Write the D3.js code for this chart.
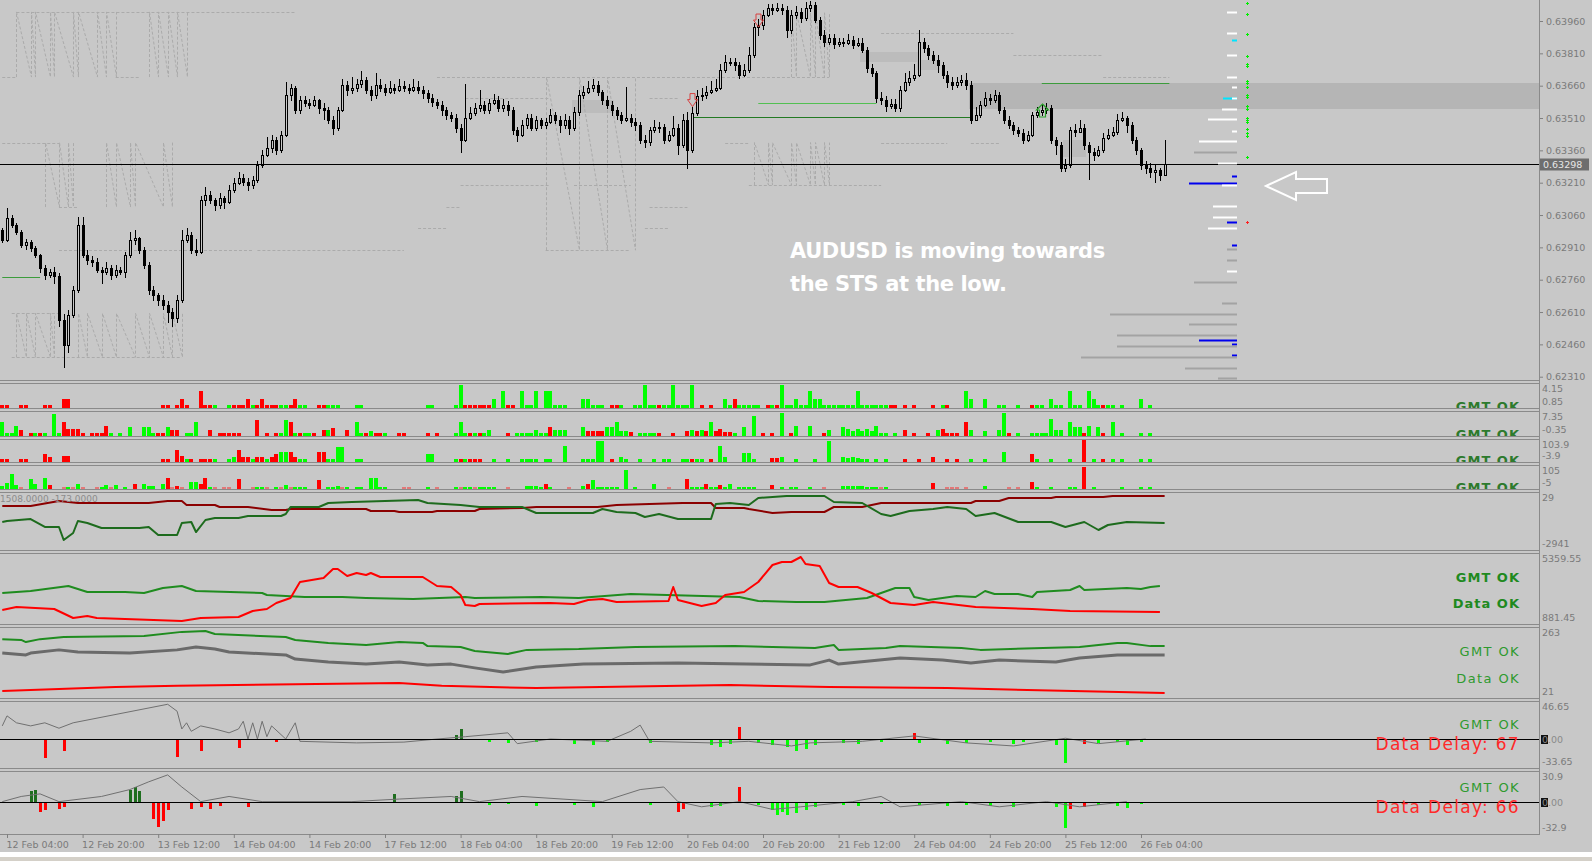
<!DOCTYPE html>
<html><head><meta charset="utf-8">
<script src="https://cdn.jsdelivr.net/npm/d3@7"></script>
<style>
html,body{margin:0;padding:0;background:#c8c8c8;overflow:hidden}
svg{display:block}
text{font-family:"DejaVu Sans",Verdana,sans-serif}
</style></head><body>
<svg id="c" width="1592" height="861"></svg>
<script>
// ---------------- DATA ----------------
// Hourly AUDUSD candles, prices in points (price x 1e5). Bar 1 = 12 Feb 04:00
const opens = [62990,62943,63045,63013,62981,62920,62934,62906,62874,62814,
62781,62795,62776,62572,62456,62595,62711,63013,62874,62851,
62841,62804,62795,62814,62781,62804,62795,62874,62943,62953,
62897,62827,62711,62688,62665,62642,62609,62581,62665,62943,
62967,62897,62888,63129,63152,63129,63106,63138,63120,63176,
63208,63231,63213,63199,63222,63292,63338,63371,63408,63361,
63431,63617,63649,63547,63594,63580,63570,63594,63556,63547,
63501,63464,63547,63663,63640,63649,63668,63686,63640,63617,
63663,63649,63631,63649,63640,63659,63649,63640,63654,63640,
63626,63603,63584,63570,63547,63524,63510,63464,63408,63510,
63533,63556,63570,63547,63580,63594,63556,63570,63547,63454,
63431,63477,63510,63464,63501,63477,63492,63524,63501,63477,
63501,63464,63538,63617,63631,63649,63663,63631,63594,63570,
63547,63524,63501,63510,63492,63477,63408,63398,63454,63468,
63468,63408,63431,63464,63385,63501,63361,63533,63612,63617,
63631,63640,63649,63733,63770,63770,63756,63710,63733,63802,
63932,63942,63988,64021,64011,64021,64011,63918,63988,64002,
63974,64021,64035,63965,63895,63863,63881,63854,63863,63858,
63872,63849,63858,63826,63742,63719,63603,63594,63566,63575,
63556,63640,63677,63696,63710,63863,63835,63802,63779,63756,
63710,63677,63663,63677,63686,63663,63501,63524,63570,63603,
63594,63617,63547,63501,63477,63454,63440,63408,63431,63524,
63538,63547,63556,63408,63385,63278,63292,63454,63445,63464,
63385,63352,63338,63361,63417,63431,63445,63501,63510,63477,
63408,63361,63292,63278,63259,63268,63245];
const highs = [63000,63092,63060,63025,62990,62950,62945,62915,62880,62830,
62810,62820,62790,62600,62620,62730,63050,63050,62900,62870,
62860,62820,62840,62830,62830,62820,62890,62980,62990,62960,
62910,62840,62730,62700,62690,62660,62630,62690,62990,63000,
62980,62950,63150,63190,63170,63140,63160,63150,63200,63230,
63260,63250,63230,63240,63310,63360,63420,63430,63420,63450,
63677,63670,63660,63610,63610,63600,63610,63600,63580,63560,
63520,63560,63690,63680,63700,63690,63730,63700,63660,63720,
63690,63670,63680,63670,63690,63680,63670,63690,63680,63660,
63640,63620,63600,63590,63560,63540,63530,63480,63670,63560,
63580,63640,63590,63600,63620,63610,63600,63590,63560,63470,
63500,63530,63530,63520,63510,63510,63550,63540,63520,63530,
63520,63560,63640,63660,63680,63690,63680,63640,63610,63590,
63560,63540,63654,63530,63510,63490,63430,63470,63500,63490,
63480,63450,63520,63480,63530,63540,63560,63640,63650,63660,
63680,63690,63760,63800,63790,63790,63770,63760,63840,63950,
63970,64010,64040,64040,64045,64040,64030,64010,64030,64020,
64050,64058,64050,63980,63920,63900,63900,63880,63880,63900,
63890,63880,63880,63840,63760,63730,63630,63610,63600,63600,
63660,63720,63730,63760,63919,63880,63850,63820,63800,63770,
63730,63700,63700,63710,63720,63680,63560,63590,63630,63620,
63640,63630,63560,63520,63490,63470,63460,63450,63540,63560,
63570,63580,63570,63420,63400,63320,63470,63480,63500,63480,
63400,63370,63380,63440,63460,63470,63530,63540,63520,63490,
63420,63370,63310,63300,63290,63280,63408];
const lows = [62930,62935,63000,62965,62905,62900,62890,62860,62790,62760,
62770,62740,62540,62349,62420,62580,62700,62860,62830,62820,
62790,62740,62780,62760,62770,62780,62770,62860,62920,62880,
62810,62690,62660,62640,62620,62560,62539,62560,62650,62930,
62880,62870,62880,63100,63110,63080,63090,63090,63110,63160,
63200,63195,63170,63180,63210,63280,63330,63350,63340,63350,
63420,63590,63530,63530,63560,63550,63560,63530,63500,63480,
63430,63450,63540,63610,63620,63630,63650,63620,63590,63600,
63630,63610,63620,63620,63630,63630,63620,63630,63620,63600,
63580,63560,63550,63520,63500,63490,63440,63347,63400,63500,
63520,63540,63530,63530,63570,63540,63540,63520,63430,63400,
63420,63460,63450,63450,63460,63460,63480,63480,63440,63460,
63430,63450,63520,63600,63620,63630,63610,63570,63550,63520,
63500,63480,63490,63470,63450,63390,63370,63380,63440,63440,
63390,63400,63420,63340,63370,63275,63350,63520,63590,63600,
63620,63630,63640,63720,63750,63730,63690,63700,63720,63790,
63890,63920,63980,63990,64000,63990,63880,63900,63970,63950,
63960,64000,63950,63870,63840,63850,63830,63840,63840,63850,
63830,63840,63810,63720,63700,63580,63570,63540,63550,63540,
63540,63630,63660,63680,63700,63810,63780,63760,63720,63690,
63650,63640,63650,63660,63640,63480,63500,63510,63560,63570,
63580,63530,63480,63460,63430,63420,63390,63400,63420,63510,
63520,63530,63390,63340,63259,63260,63280,63420,63440,63360,
63222,63310,63330,63350,63410,63420,63430,63490,63440,63390,
63340,63270,63250,63230,63208,63220,63240];
const closes = [62943,63045,63013,62981,62920,62934,62906,62874,62814,62781,
62795,62776,62572,62456,62595,62711,63013,62874,62851,62841,
62804,62795,62814,62781,62804,62795,62874,62943,62953,62897,
62827,62711,62688,62665,62642,62609,62581,62665,62943,62967,
62897,62888,63129,63152,63129,63106,63138,63120,63176,63208,
63231,63213,63199,63222,63292,63338,63371,63408,63361,63431,
63617,63649,63547,63594,63580,63570,63594,63556,63547,63501,
63464,63547,63663,63640,63649,63668,63686,63640,63617,63663,
63649,63631,63649,63640,63659,63649,63640,63654,63640,63626,
63603,63584,63570,63547,63524,63510,63464,63408,63510,63533,
63556,63570,63547,63580,63594,63556,63570,63547,63454,63431,
63477,63510,63464,63501,63477,63492,63524,63501,63477,63501,
63464,63538,63617,63631,63649,63663,63631,63594,63570,63547,
63524,63501,63510,63492,63477,63408,63398,63454,63468,63468,
63408,63431,63464,63385,63501,63361,63533,63612,63617,63631,
63640,63649,63733,63770,63770,63756,63710,63733,63802,63932,
63942,63988,64021,64011,64021,64011,63918,63988,64002,63974,
64021,64035,63965,63895,63863,63881,63854,63863,63858,63872,
63849,63858,63826,63742,63719,63603,63594,63566,63575,63556,
63640,63677,63696,63710,63863,63835,63802,63779,63756,63710,
63677,63663,63677,63686,63663,63501,63524,63570,63603,63594,
63617,63547,63501,63477,63454,63440,63408,63431,63524,63538,
63547,63556,63408,63385,63278,63292,63454,63445,63464,63385,
63352,63338,63361,63417,63431,63445,63501,63510,63477,63408,
63361,63292,63278,63259,63268,63245,63298];
const lastPrice = 63298;

const priceTicks = [63960,63810,63660,63510,63360,63210,63060,62910,62760,62610,62460,62310];
const timeTickBars = [1,17,33,49,65,81,97,113,129,145,161,177,193,209,225,241];
const timeLabels = ["12 Feb 04:00","12 Feb 20:00","13 Feb 12:00","14 Feb 04:00","14 Feb 20:00","17 Feb 12:00","18 Feb 04:00","18 Feb 20:00","19 Feb 12:00","20 Feb 04:00","20 Feb 20:00","21 Feb 12:00","24 Feb 04:00","24 Feb 20:00","25 Feb 12:00","26 Feb 04:00"];

// shaded zones [barFrom, barTo, priceTop, priceBottom]
const zones = [[205,330,63673,63552],[182,194,63817,63770],[194,198,63779,63733],[121,129,63594,63533],[225,229,63408,63329]];
// dashed level segments [barFrom, barTo, price]
const dashSegs = [[3,62,64002],[60,67,64058],[0,3,63700],[24,29,63700],[92,175,63700],[186,214,63905],[214,233,63803],[233,247,63700],
[98,116,63603],[137,143,63603],[0,12,63396],[153,158,63396],[186,200,63396],[205,211,63396],[97,116,63199],[158,186,63199],[121,133,63199],
[12,16,63097],[94,97,63097],[137,145,63097],[12,53,62897],[54,85,62897],[115,133,62897],[88,94,63000],[136,141,63000],[2,12,62604],[2,38,62400]];
// dashed zig-zag swings [priceTop, priceBottom, bars]
const zigzags = [
 [64002,63700,[3,6,7,10,11,15,16,20,22,24]],
 [64002,63700,[31,33,35,37,39]],
 [63396,63097,[9,12,14,15]],
 [63396,63097,[22,24,27,28,34,36]],
 [62604,62400,[3,5,7,10,11]],
 [62604,62400,[16,18,21,24,28,31,34,36,38]],
 [63396,63199,[159,162,163,167,168,171,172,174,175]],
 [63998,63700,[167,168,171,172,174,175]],
 [63700,62897,[115,122,128,134]]];
// green level lines [barFrom, barTo, price, shade]
const greenLevels = [[0,8,62772,0],[160,185,63580,1],[146,205,63515,2],[220,247,63673,0]];
const downArrows = [[146,63563],[160,63932]];
const upArrows = [[220,63575]];
// right-side level profile [price, volume, kind]
const profile = [[64002,10,'w'],[63905,10,'w'],[63803,10,'w'],[63700,10,'w'],[63654,5,'w'],[63603,5,'w'],[63552,15,'w'],[63505,29,'w'],[63450,5,'w'],[63403,38,'w'],[63352,43,'g'],[63301,19,'w'],[63240,5,'b'],[63208,48,'b'],[63199,15,'w'],[63101,24,'w'],[63050,24,'w'],[63027,10,'b'],[62999,29,'w'],[62920,5,'b'],[62902,10,'g'],[62851,10,'g'],[62800,10,'w'],[62748,43,'g'],[62651,15,'g'],[62600,127,'g'],[62553,48,'g'],[62502,120,'g'],[62479,38,'b'],[62460,5,'b'],[62451,120,'g'],[62409,5,'b'],[62400,156,'g'],[62349,52,'g'],[62303,19,'g']];
const cyanMarks = [[63872,5],[63603,14]];
const signalDots = [64044,63993,63900,63798,63761,63752,63682,63673,63654,63617,63607,63566,63552,63510,63501,63491,63459,63440,63426,63329];
const redDots = [63027];

// histogram sub-windows [bar, value] (+ green, - red)
const hist1 = [[0,-.4],[1,-.4],[4,-.4],[5,-.4],[9,-.4],[10,-.4],[13,-1.5],[14,-1.5],[34,-.4],[35,-.4],[37,-.4],[38,-1.5],[39,-.4],[42,-3],[43,-.4],[44,-.4],[45,.4],[48,.4],[49,-.4],[50,-.4],[51,-.4],[52,-1.5],[53,.4],[54,-.4],[55,-1.5],[56,-.4],[57,-.4],[58,-.4],[59,.4],[60,.4],[61,-.4],[62,-1.5],[63,.4],[64,.4],[67,-.4],[68,-.4],[69,.4],[70,.4],[71,.4],[75,.4],[76,.4],[90,.4],[91,.4],[96,.4],[97,4.15],[98,-.4],[99,-.4],[100,-.4],[101,-.4],[102,-.4],[103,-.4],[104,1.5],[106,3],[107,-.4],[108,-.4],[110,3],[111,.4],[112,.4],[113,3],[115,3],[116,3],[117,.4],[118,.4],[119,.4],[123,1.5],[124,1.5],[125,.4],[126,.4],[127,.4],[129,-.4],[130,-.4],[131,.4],[134,.4],[135,.4],[136,4.15],[137,.4],[138,.4],[139,-.4],[140,.4],[141,.4],[142,4.15],[143,.4],[144,.4],[145,.4],[146,4.15],[148,-.4],[150,-.4],[153,1.5],[154,.4],[155,-1.5],[156,.4],[157,.4],[158,.4],[159,.4],[160,.4],[162,-.4],[163,.4],[164,-.4],[165,4.15],[166,.4],[167,.4],[168,1.5],[169,.4],[170,.4],[171,3],[172,1.5],[173,1.5],[174,.4],[175,.4],[176,.4],[177,.4],[178,.4],[179,.4],[180,.4],[181,3],[182,.4],[183,.4],[184,.4],[185,.4],[186,.4],[187,.4],[188,-.4],[189,-.4],[191,-.4],[193,-.4],[197,-.4],[199,.4],[200,-.4],[204,3],[205,1.5],[208,1.5],[211,.4],[212,.4],[215,.4],[218,-.4],[219,.4],[220,.4],[222,1.5],[223,.4],[224,.4],[226,3],[227,.4],[228,.4],[230,3],[231,1.5],[232,.4],[233,-.4],[234,.4],[235,.4],[237,.4],[241,1.5],[243,.4]];
const hist2 = [[0,4.2],[1,.7],[2,.7],[3,3.15],[4,-1.75],[6,-.7],[7,.7],[8,-.7],[9,.7],[11,7],[12,.7],[13,-4.2],[14,-2.1],[15,-2.1],[16,-2.1],[17,-.7],[19,-.7],[20,-.7],[21,-.7],[22,-3.15],[23,.7],[25,.7],[27,2.8],[30,2.8],[31,2.8],[32,.7],[33,-.7],[34,-.7],[35,2.8],[36,-1.75],[37,-1.75],[39,.7],[40,.7],[41,4.2],[44,-1.75],[46,-.7],[47,-.7],[48,-.7],[49,-.7],[50,-.7],[54,-4.9],[56,-.7],[58,-.7],[59,.7],[60,4.9],[61,-4.2],[62,.7],[63,-.7],[64,.7],[65,.7],[66,-.7],[68,-1.75],[69,1.75],[70,-2.45],[73,-1.75],[75,4.2],[76,.7],[77,-.7],[78,1.4],[79,-.7],[80,-.7],[81,.7],[84,-.7],[85,-.7],[90,-.7],[92,-.7],[96,.7],[97,4.2],[98,.7],[99,-.7],[100,.7],[101,-.7],[102,.7],[103,1.6],[107,-.7],[109,.7],[110,.7],[111,.7],[112,.7],[113,1.6],[114,.7],[115,.7],[116,-2.8],[117,1.6],[118,1.6],[119,1.6],[123,2.8],[124,-1.4],[125,-1.4],[126,-1.4],[127,-1.4],[128,2.6],[129,2.6],[130,4.2],[131,1.4],[132,1.4],[133,-1.2],[135,.7],[136,.7],[137,.7],[138,.7],[139,-.7],[142,-.7],[145,-1.4],[146,1.6],[147,-1.4],[148,1.6],[149,-1.4],[150,4.2],[151,-1.4],[152,-2],[153,-1.2],[154,-1.2],[155,.7],[157,2.8],[159,6.3],[161,-.7],[163,-.7],[165,7.35],[167,-.7],[168,3.15],[171,3.15],[174,-.7],[175,1.6],[178,2.8],[179,2.1],[180,1.4],[181,2.1],[182,1.4],[183,2.1],[184,1.4],[185,3.15],[186,.7],[187,.7],[189,.7],[191,-1.6],[193,-.7],[196,-.7],[198,1.6],[199,-2],[200,-.9],[201,-.9],[202,-.9],[204,-4.2],[205,1.6],[208,1.4],[211,1.6],[212,7.35],[213,-.7],[215,.7],[218,.7],[219,.7],[220,.7],[221,.7],[222,5.25],[223,1.6],[224,1.6],[226,4.2],[227,2.6],[228,2.6],[229,-.7],[230,3.15],[232,2.8],[233,-.7],[235,4.2],[237,.7],[241,.7],[243,.7]];
const hist3 = [[0,-10],[1,-10],[4,-10],[5,-10],[9,-36],[10,-23],[13,-26],[14,-26],[34,-10],[35,-10],[37,-57],[38,-29],[39,10],[40,-10],[42,-10],[43,-10],[44,-10],[45,10],[48,10],[49,23],[50,-57],[51,-23],[52,-23],[53,10],[54,-23],[55,-23],[56,10],[57,-23],[58,-36],[59,47],[60,47],[61,-47],[62,-23],[63,10],[64,10],[67,-47],[68,-47],[69,10],[70,10],[71,73],[72,73],[75,10],[76,10],[90,36],[91,36],[96,10],[97,-12],[98,10],[99,-10],[100,-10],[101,-10],[104,10],[107,10],[110,10],[111,10],[112,10],[113,10],[115,10],[116,10],[119,75],[123,10],[124,10],[125,10],[126,99],[127,99],[129,-10],[131,23],[132,10],[135,10],[138,10],[140,10],[141,10],[144,10],[145,10],[146,-10],[147,10],[148,10],[150,-10],[152,78],[153,23],[157,40],[158,40],[159,10],[163,-18],[164,-18],[165,23],[168,10],[172,10],[175,99],[178,23],[179,18],[180,23],[181,18],[182,12],[183,10],[185,10],[187,10],[191,-10],[194,-10],[197,-23],[200,-10],[202,-10],[205,10],[208,10],[212,47],[218,-35],[219,10],[222,10],[226,10],[229,-104],[231,10],[233,-10],[235,10],[237,10],[241,10],[243,10]];
const hist4 = [[0,12],[1,28],[2,70],[3,18],[4,-8],[6,47],[7,20],[9,52],[10,-18],[13,-8],[14,8],[15,-8],[16,20],[17,-6],[20,-8],[21,8],[22,18],[23,-8],[24,18],[26,8],[28,-20],[30,20],[31,12],[32,12],[34,20],[35,-52],[36,-8],[37,-12],[38,-8],[40,30],[41,30],[42,-20],[43,-52],[44,8],[45,-8],[47,-8],[48,-8],[50,-47],[53,-8],[54,8],[55,8],[56,-8],[58,8],[59,-8],[60,18],[61,-8],[62,8],[63,8],[64,8],[67,-40],[69,8],[70,8],[71,12],[72,-8],[73,8],[75,8],[76,8],[78,52],[79,52],[80,8],[81,8],[85,-8],[86,-8],[90,8],[92,-8],[96,8],[97,-8],[98,8],[99,8],[100,-8],[101,8],[102,8],[103,8],[104,8],[107,-6],[111,12],[112,12],[113,12],[114,6],[115,-20],[116,6],[120,-6],[123,12],[124,-20],[125,42],[126,6],[127,6],[128,6],[129,6],[130,6],[132,87],[134,6],[138,20],[141,-6],[145,-47],[146,6],[147,6],[148,6],[149,-20],[150,6],[151,6],[152,-17],[153,6],[154,20],[156,6],[157,6],[158,6],[159,6],[163,-17],[165,6],[167,6],[168,6],[171,6],[174,-6],[178,12],[179,12],[180,12],[181,12],[182,12],[183,6],[184,6],[185,6],[186,-6],[187,6],[197,-26],[200,-6],[201,-6],[202,-6],[204,-6],[208,12],[213,-6],[215,-6],[218,-33],[219,6],[222,6],[226,6],[227,6],[229,-103],[231,6],[237,6],[241,6],[243,6]];
const histMax = [4.15,7.35,103.9,105];
const histLabels = [["4.15","0.85"],["7.35","-0.35"],["103.9","-3.9"],["105","-5"]];

// line sub-window 5 [bar, value]
const p5Red = [[0,-553],[6,-553],[12,-262],[14,-320],[16,-379],[31,-379],[35,-262],[38,-262],[39,-495],[45,-495],[46,-612],[52,-612],[57,-786],[60,-786],[61,-728],[77,-728],[78,-845],[83,-845],[84,-903],[91,-903],[92,-845],[100,-845],[101,-728],[110,-670],[113,-612],[126,-612],[130,-495],[137,-437],[144,-379],[150,-379],[151,-670],[157,-670],[158,-728],[163,-961],[167,-903],[174,-903],[176,-612],[182,-612],[186,-379],[205,-379],[206,-262],[211,-262],[213,-87],[222,-87],[223,-29],[233,-29],[235,29],[246,29]];
const p5Green = [[0,-1485],[1,-1427],[6,-1311],[9,-1776],[12,-1776],[13,-2534],[15,-2126],[16,-1427],[18,-1543],[21,-1835],[29,-1835],[31,-1776],[33,-2242],[37,-2242],[38,-1543],[40,-1485],[41,-2068],[43,-1369],[45,-1252],[50,-1252],[52,-1136],[59,-1136],[60,-1019],[61,-612],[67,-612],[69,-379],[74,-320],[88,-204],[90,-379],[97,-495],[101,-612],[110,-612],[113,-961],[125,-961],[127,-728],[130,-903],[134,-961],[136,-1194],[139,-1019],[143,-1311],[150,-1311],[151,-437],[154,-379],[158,-495],[160,-87],[166,29],[174,29],[176,-320],[182,-379],[186,-1019],[188,-1136],[192,-845],[197,-728],[200,-612],[204,-728],[206,-1136],[210,-961],[215,-1485],[222,-1485],[225,-1776],[229,-1485],[232,-1951],[234,-1660],[238,-1485],[246,-1543]];
const p5Labels = ["29","-2941"];
const p5Domain = [-2941,29];
// sub-window 6
const p6Green = [[0,2820],[6,2954],[14,3288],[18,2887],[26,2887],[30,2820],[34,3154],[38,3288],[41,2954],[55,2820],[56,2686],[64,2553],[72,2553],[77,2486],[87,2419],[98,2553],[100,2486],[114,2553],[122,2486],[133,2753],[156,2553],[160,2285],[168,2218],[174,2218],[183,2486],[189,3154],[192,3154],[193,2553],[196,2352],[202,2619],[206,2553],[208,2954],[210,2753],[215,2753],[218,2553],[219,2887],[226,3020],[228,3288],[229,3020],[238,3154],[241,3087],[243,3221],[245,3288]];
const p6Red = [[0,1684],[3,1884],[11,1750],[15,1149],[18,1282],[20,1149],[32,1015],[38,948],[42,1149],[50,1216],[53,1617],[56,1750],[58,2151],[61,2486],[63,3555],[68,3822],[70,4424],[71,4424],[73,3956],[75,4156],[77,4023],[78,4156],[80,3889],[89,3889],[92,3288],[95,3221],[97,2686],[98,2018],[100,1951],[101,2085],[116,2151],[121,2085],[124,2352],[127,2419],[130,2218],[141,2285],[142,3221],[143,2352],[148,1951],[151,2151],[153,2686],[157,2887],[160,3555],[163,4691],[165,4892],[167,4892],[169,5226],[170,4758],[173,4624],[175,3488],[177,3221],[181,3221],[184,2820],[188,2151],[193,2018],[197,2218],[206,1884],[218,1750],[226,1617],[245,1550]];
const p6Labels = ["5359.55","881.45"];
const p6Domain = [881.45,5359.55];
// sub-window 7
const p7Green = [[0,229],[4,226],[5,218],[8,229],[13,237],[30,241],[38,256],[43,259],[45,248],[60,237],[62,226],[69,215],[77,207],[84,218],[89,215],[90,203],[97,200],[100,185],[107,174],[111,189],[122,192],[134,200],[155,203],[172,196],[176,207],[177,189],[187,196],[190,203],[203,196],[207,189],[228,200],[236,215],[238,215],[243,203],[246,203]];
const p7Gray = [[0,177],[5,170],[6,177],[12,189],[16,181],[27,177],[37,189],[41,200],[45,192],[48,181],[60,170],[62,155],[69,144],[77,136],[84,144],[90,133],[95,136],[100,122],[106,107],[113,125],[123,136],[143,140],[171,133],[175,151],[177,136],[190,159],[199,151],[205,140],[211,151],[223,144],[228,159],[236,170],[246,170]];
const p7Red = [[0,36],[24,51],[37,55],[84,66],[93,55],[113,47],[154,58],[175,51],[200,47],[246,28]];
const p7Labels = ["263","21"];
const p7Domain = [21,263];
// sub-windows 8 & 9 : oscillator line + histogram [bar, value, kind]
const p8Line = [[0,17],[1,30],[3,21],[6,17],[9,21],[12,14],[15,21],[35,45],[37,36],[38,13],[39,21],[40,10],[42,17],[45,13],[48,8],[50,13],[51,23],[52,0],[53,21],[54,0],[55,23],[56,3],[57,17],[60,0],[62,21],[63,-3],[75,-5],[85,-4],[92,0],[98,3],[107,8],[109,-6],[116,0],[128,-3],[133,10],[135,18],[137,-3],[150,-5],[158,-3],[167,-9],[171,-5],[182,-3],[193,4],[204,-5],[214,-9],[225,1],[232,-6],[242,0]];
const p8Bars = [[9,-24.6,'r'],[13,-15.6,'r'],[37,-23,'r'],[42,-15,'r'],[50,-12,'r'],[58,-4,'r'],[96,5,'d'],[97,13,'d'],[156,15,'r'],[193,8,'r'],[225,-31,'g'],[229,-6,'r'],
[103,-4,'g'],[107,-5,'g'],[113,-4,'g'],[121,-6,'g'],[125,-8,'g'],[128,-4,'g'],[137,-5,'g'],[150,-8,'g'],[152,-10,'g'],[154,-6,'g'],[160,-5,'g'],[163,-8,'g'],[166,-10,'g'],[168,-16,'g'],[170,-13,'g'],[172,-8,'g'],[178,-5,'g'],[181,-6,'g'],[186,-4,'g'],[194,-5,'g'],[200,-6,'g'],[204,-5,'g'],[209,-4,'g'],[214,-6,'g'],[216,-4,'g'],[223,-8,'g'],[232,-5,'g'],[236,-4,'g'],[238,-8,'g'],[241,-4,'g']];
const p8Labels = ["46.65","0.00","-33.65"];
const p8Domain = [-33.65,46.65];
const p9Line = [[0,0],[4,6],[8,9],[12,0],[21,6],[27,14],[31,23],[35,31],[38,17],[42,0],[48,6],[55,0],[63,0],[74,0],[84,3],[95,6],[101,0],[110,6],[127,0],[135,14],[140,17],[143,0],[148,-6],[156,0],[163,-9],[169,-6],[180,0],[186,6],[190,-6],[203,0],[211,-6],[221,0],[228,-6],[238,0]];
const p9Bars = [[6,12,'d'],[7,14,'d'],[8,-12,'r'],[9,-10,'r'],[12,-8,'r'],[13,-6,'r'],[27,14,'d'],[28,17,'d'],[29,12,'d'],[32,-20,'r'],[33,-29,'r'],[34,-22,'r'],[35,-10,'r'],[40,-8,'r'],[42,-6,'r'],[44,-8,'r'],[46,-5,'r'],[52,-6,'r'],[83,9,'d'],[96,6,'d'],[97,12,'d'],[143,-12,'r'],[144,-8,'r'],[156,17,'r'],[164,-15,'g'],[165,-12,'g'],[225,-31,'g'],[226,-8,'r'],[229,-6,'r'],
[103,-4,'g'],[107,-3,'g'],[113,-5,'g'],[121,-4,'g'],[125,-6,'g'],[137,-4,'g'],[150,-6,'g'],[152,-5,'g'],[160,-4,'g'],[163,-10,'g'],[166,-15,'g'],[168,-13,'g'],[170,-10,'g'],[172,-6,'g'],[178,-4,'g'],[181,-5,'g'],[186,-3,'g'],[194,-4,'g'],[200,-5,'g'],[204,-4,'g'],[209,-5,'g'],[214,-6,'g'],[223,-6,'g'],[232,-4,'g'],[236,-5,'g'],[238,-7,'g'],[241,-3,'g']];
const p9Labels = ["30.9","0.00","-32.9"];
const p9Domain = [-32.9,30.9];

const note = ["AUDUSD is moving towards","the STS at the low."];

// ---------------- LAYOUT ----------------
const W=1592,H=861,RIGHT=1539;
const svg=d3.select('#c');
svg.append('rect').attr('width',W).attr('height',H).attr('fill','#c8c8c8');
const panes=[{t:0,b:380},{t:383,b:408},{t:411,b:436},{t:439,b:462},{t:465,b:489},{t:492,b:550},{t:553,b:624},{t:627,b:698},{t:701,b:768},{t:771,b:834}];
const defs=svg.append('defs');
panes.forEach((p,i)=>{defs.append('clipPath').attr('id','cp'+i).append('rect').attr('x',0).attr('y',p.t+1).attr('width',RIGHT).attr('height',p.b-p.t-1);});
const x=d3.scaleLinear().domain([1,241]).range([7,1141]);
const pts=v=>v/1e5;
const xr=k=>Math.round(x(k));

// ---- main pane ----
const y=d3.scaleLinear().domain([0.6231,0.6396]).range([376.7,21]);
const gm=svg.append('g').attr('clip-path','url(#cp0)');
gm.selectAll(null).data(zones).join('rect')
 .attr('x',d=>xr(d[0])-2).attr('width',d=>x(d[1])-x(d[0])+4)
 .attr('y',d=>Math.round(y(pts(d[2])))).attr('height',d=>Math.round(y(pts(d[3]))-y(pts(d[2]))))
 .attr('fill',(d,i)=>i===0?'#b5b5b5':'#bcbcbc');
const dashCol='#ababab';
gm.selectAll(null).data(dashSegs).join('line')
 .attr('x1',d=>x(d[0])).attr('x2',d=>x(d[1]))
 .attr('y1',d=>Math.round(y(pts(d[2])))+0.5).attr('y2',d=>Math.round(y(pts(d[2])))+0.5)
 .attr('stroke',dashCol).attr('stroke-dasharray','3,2');
zigzags.forEach(z=>{
 const ptsArr=[];
 z[2].forEach(b=>{ ptsArr.push([b,z[1]],[b,z[0]]); });
 gm.append('path').datum(ptsArr).attr('d',d3.line().x(d=>xr(d[0])+0.5).y(d=>y(pts(d[1]))))
  .attr('fill','none').attr('stroke',dashCol).attr('stroke-dasharray','3,2');
});
const greenCols=['#3c9c3c','#52c052','#237a23'];
gm.selectAll(null).data(greenLevels).join('line')
 .attr('x1',d=>x(d[0])).attr('x2',d=>x(d[1]))
 .attr('y1',d=>Math.round(y(pts(d[2])))+0.5).attr('y2',d=>Math.round(y(pts(d[2])))+0.5)
 .attr('stroke',d=>greenCols[d[3]]).attr('stroke-width',1.2);

// candles
const candles=opens.map((o,i)=>({k:i,o:pts(o),h:pts(highs[i]),l:pts(lows[i]),c:pts(closes[i])}));
const cg=gm.append('g').attr('shape-rendering','crispEdges');
cg.selectAll(null).data(candles).join('line')
 .attr('x1',d=>xr(d.k)+0.5).attr('x2',d=>xr(d.k)+0.5)
 .attr('y1',d=>Math.round(y(d.h))).attr('y2',d=>Math.round(y(d.l)))
 .attr('stroke','#000');
cg.selectAll(null).data(candles).join('rect')
 .attr('x',d=>xr(d.k)-1.5+0.5).attr('width',2)
 .attr('y',d=>Math.round(y(Math.max(d.o,d.c)))+0.5)
 .attr('height',d=>Math.max(1,Math.round(Math.abs(y(d.o)-y(d.c)))))
 .attr('fill',d=>d.c>=d.o?'#c8c8c8':'#000').attr('stroke','#000');

// arrows
downArrows.forEach(a=>{const cx=xr(a[0])+0.5,ty=y(pts(a[1]))-13;
 gm.append('path').attr('d',`M${cx-2.5},${ty}L${cx+2.5},${ty}L${cx+2.5},${ty+6}L${cx+5},${ty+6}L${cx},${ty+13}L${cx-5},${ty+6}L${cx-2.5},${ty+6}Z`)
 .attr('fill','none').attr('stroke','#d84040').attr('stroke-width',1);});
upArrows.forEach(a=>{const cx=xr(a[0])+0.5,ty=y(pts(a[1]));
 gm.append('path').attr('d',`M${cx},${ty}L${cx+6},${ty+6}L${cx+3},${ty+6}L${cx+3},${ty+13}L${cx-3},${ty+13}L${cx-3},${ty+6}L${cx-6},${ty+6}Z`)
 .attr('fill','none').attr('stroke','#2aa02a').attr('stroke-width',1.2);});

// current price line
const ly=Math.round(y(pts(lastPrice)))+0.5;
gm.append('line').attr('x1',0).attr('x2',RIGHT).attr('y1',ly).attr('y2',ly).attr('stroke','#000').attr('stroke-width',1.2);

// right-side profile
const PEND=1237;
const vol=d3.scaleLinear().domain([0,160]).range([0,160]);
const kindCol={w:'#ffffff',g:'#a3a3a3',b:'#0000ee'};
gm.selectAll(null).data(cyanMarks).join('line')
 .attr('x1',d=>PEND-vol(d[1])).attr('x2',PEND)
 .attr('y1',d=>Math.round(y(pts(d[0])))+0.5).attr('y2',d=>Math.round(y(pts(d[0])))+0.5)
 .attr('stroke','#00e5ff').attr('stroke-width',2);
gm.selectAll(null).data(profile).join('line')
 .attr('x1',d=>PEND-vol(d[1])).attr('x2',PEND)
 .attr('y1',d=>Math.round(y(pts(d[0])))+0.5).attr('y2',d=>Math.round(y(pts(d[0])))+0.5)
 .attr('stroke',d=>kindCol[d[2]]).attr('stroke-width',2);
const DX=1247;
[[signalDots,'#00ee00'],[redDots,'#ff2020']].forEach(([arr,col])=>{
 arr.forEach(p=>{const yy=Math.round(y(pts(p)));
  gm.append('rect').attr('x',DX-1).attr('y',yy).attr('width',3).attr('height',1).attr('fill',col);
  gm.append('rect').attr('x',DX).attr('y',yy-1).attr('width',1).attr('height',3).attr('fill',col);});
});
// white arrow annotation
gm.append('path').attr('d','M1266,186L1296,172L1296,179L1327,179L1327,193L1296,193L1296,200Z')
 .attr('fill','none').attr('stroke','#fff').attr('stroke-width',2);
// text note
[0,1].forEach(i=>gm.append('text').attr('x',790).attr('y',258+i*33).attr('fill','#fff').attr('font-family','Lato')
 .attr('font-weight','bold').attr('font-size',21).attr('letter-spacing','-0.4px').text(note[i]));

// price axis
const axG=svg.append('g').attr('transform',`translate(${RIGHT},0)`)
 .call(d3.axisRight(y).tickValues(priceTicks.map(pts)).tickSize(4).tickPadding(3).tickFormat(d3.format('.5f')));
axG.select('.domain').remove();
axG.selectAll('line').attr('stroke','#808080');
axG.selectAll('text').attr('fill','#7a7a7a').attr('font-size','9.5px').attr('font-family','DejaVu Sans');
svg.append('rect').attr('x',RIGHT+1).attr('y',ly-6).attr('width',49).attr('height',12).attr('fill','#6e6e6e');
svg.append('text').attr('x',RIGHT+4).attr('y',ly).attr('dy','0.35em').attr('fill','#e6e6e6').attr('font-size','9.5px').text(d3.format('.5f')(pts(lastPrice)));

// ---- histogram panes ----
const hists=[hist1,hist2,hist3,hist4];
hists.forEach((data,i)=>{
 const p=panes[i+1];
 const ys=d3.scaleLinear().domain([0,histMax[i]]).range([p.b-0.5,p.t+1.5]);
 const g=svg.append('g').attr('clip-path',`url(#cp${i+1})`).attr('shape-rendering','crispEdges');
 g.selectAll(null).data(data).join('rect')
  .attr('x',d=>xr(d[0])-2).attr('width',4)
  .attr('y',d=>ys(Math.abs(d[1]))).attr('height',d=>ys(0)-ys(Math.abs(d[1])))
  .attr('fill',d=>d[1]>0?'#00ff00':(i===3&&Math.abs(d[1])<10?'#e27878':'#ff0000'));
 g.append('text').attr('x',1520).attr('y',p.b+3).attr('text-anchor','end').attr('fill','#2d7a2d')
  .attr('font-size','13px').attr('font-weight','bold').attr('letter-spacing','1px').text('GMT OK');
 svg.append('text').attr('x',RIGHT+3).attr('y',p.t+6).attr('dy','0.35em').attr('fill','#7a7a7a').attr('font-size','9.5px').text(histLabels[i][0]);
 svg.append('text').attr('x',RIGHT+3).attr('y',p.b-6).attr('dy','0.35em').attr('fill','#7a7a7a').attr('font-size','9.5px').text(histLabels[i][1]);
});

// ---- line panes ----
function linePane(pi,domain,top,bottom,series,labels){
 const p=panes[pi];
 const ys=d3.scaleLinear().domain(domain).range([bottom,top]);
 const g=svg.append('g').attr('clip-path',`url(#cp${pi})`);
 series.forEach(s=>{
  g.append('path').datum(s.data).attr('d',d3.line().x(d=>x(d[0])).y(d=>ys(d[1])))
   .attr('fill','none').attr('stroke',s.col).attr('stroke-width',s.w).attr('stroke-linejoin','round');
 });
 svg.append('text').attr('x',RIGHT+3).attr('y',p.t+6).attr('dy','0.35em').attr('fill','#7a7a7a').attr('font-size','9.5px').text(labels[0]);
 svg.append('text').attr('x',RIGHT+3).attr('y',p.b-6).attr('dy','0.35em').attr('fill','#7a7a7a').attr('font-size','9.5px').text(labels[labels.length-1]);
 return {g,ys};
}
linePane(5,p5Domain,496,547,[{data:p5Red,col:'#8b0000',w:2},{data:p5Green,col:'#1d6b1d',w:2}],p5Labels);
svg.append('text').attr('x',0).attr('y',499).attr('dy','0.35em').attr('fill','#8c8c8c').attr('font-size','9px').text('1508.0000 -173.0000');
linePane(6,p6Domain,555,622,[{data:p6Green,col:'#1f8c1f',w:2},{data:p6Red,col:'#ff0000',w:2}],p6Labels);
linePane(7,p7Domain,630,695,[{data:p7Red,col:'#ff0000',w:2},{data:p7Green,col:'#1f8c1f',w:2},{data:p7Gray,col:'#6a6a6a',w:3}],p7Labels);

function okText(yy,txt,col,bold,size,ls){
 svg.append('text').attr('x',1520).attr('y',yy).attr('dy','0.35em').attr('text-anchor','end').attr('fill',col)
  .attr('font-size',size+'px').attr('font-weight',bold?'bold':'normal').attr('letter-spacing',ls+'px').text(txt);
}
okText(577,'GMT OK','#1f8a1f',true,13,1);
okText(603,'Data OK','#1f8a1f',true,13,1);
okText(651,'GMT OK','#2e9a2e',false,13,1.4);
okText(678,'Data OK','#2e9a2e',false,13,1.4);

// ---- oscillator panes ----
function oscPane(pi,domain,top,bottom,line,bars,labels,delay){
 const p=panes[pi];
 const ys=d3.scaleLinear().domain(domain).range([bottom,top]);
 const g=svg.append('g').attr('clip-path',`url(#cp${pi})`);
 const z=Math.round(ys(0))+0.5;
 const barCol={r:'#ff0000',g:'#00ff00',d:'#1e6e1e'};
 g.append('g').attr('shape-rendering','crispEdges').selectAll(null).data(bars).join('rect')
  .attr('x',d=>xr(d[0])-1).attr('width',3)
  .attr('y',d=>Math.min(ys(d[1]),ys(0))).attr('height',d=>Math.abs(ys(d[1])-ys(0)))
  .attr('fill',d=>barCol[d[2]]);
 g.append('path').datum(line).attr('d',d3.line().x(d=>x(d[0])).y(d=>ys(d[1])))
  .attr('fill','none').attr('stroke','#707070').attr('stroke-width',1);
 g.append('line').attr('x1',0).attr('x2',RIGHT).attr('y1',z).attr('y2',z).attr('stroke','#000');
 svg.append('text').attr('x',RIGHT+3).attr('y',p.t+6).attr('dy','0.35em').attr('fill','#7a7a7a').attr('font-size','9.5px').text(labels[0]);
 svg.append('rect').attr('x',RIGHT+2).attr('y',z-4.5).attr('width',7).attr('height',9).attr('fill','#111');
 svg.append('text').attr('x',RIGHT+3).attr('y',z).attr('dy','0.35em').attr('fill','#8a8a8a').attr('font-size','9.5px').text(labels[1]);
 svg.append('text').attr('x',RIGHT+3).attr('y',p.b-6).attr('dy','0.35em').attr('fill','#7a7a7a').attr('font-size','9.5px').text(labels[2]);
 okText(z-15,'GMT OK','#2e9a2e',false,13,1.4);
 okText(z+5,delay,'#ff2a2a',false,17,1.3);
}
oscPane(8,p8Domain,703,765,p8Line,p8Bars,p8Labels,'Data Delay: 67');
oscPane(9,p9Domain,775,830,p9Line,p9Bars,p9Labels,'Data Delay: 66');

// ---- pane borders ----
const bord=svg.append('g').attr('shape-rendering','crispEdges');
panes.forEach((p,i)=>{
 if(i>0) bord.append('line').attr('x1',0).attr('x2',RIGHT).attr('y1',p.t+0.5).attr('y2',p.t+0.5).attr('stroke','#8a8a8a');
 bord.append('line').attr('x1',0).attr('x2',RIGHT).attr('y1',p.b+0.5).attr('y2',p.b+0.5).attr('stroke','#8a8a8a');
});
bord.append('line').attr('x1',RIGHT+0.5).attr('x2',RIGHT+0.5).attr('y1',0).attr('y2',835).attr('stroke','#8a8a8a').attr('stroke-width',1.5);

// ---- time axis ----
const tx=svg.append('g').attr('transform','translate(0,834)')
 .call(d3.axisBottom(x).tickValues(timeTickBars).tickSize(4).tickPadding(3).tickFormat((d,i)=>timeLabels[i]));
tx.select('.domain').remove();
tx.selectAll('line').attr('stroke','#808080');
tx.selectAll('text').attr('text-anchor','start').attr('x',-1).attr('fill','#7a7a7a').attr('font-size','9.5px').attr('font-family','DejaVu Sans');

// bottom strip
svg.append('rect').attr('x',0).attr('y',852).attr('width',W).attr('height',5).attr('fill','#ffffff');
svg.append('rect').attr('x',0).attr('y',857).attr('width',W).attr('height',4).attr('fill','#d4d0c8');
</script></body></html>
